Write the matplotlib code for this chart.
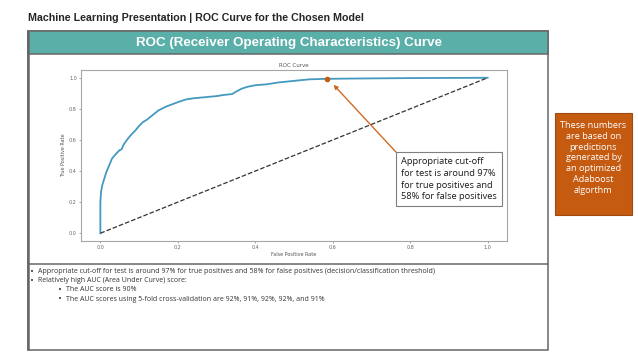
import numpy as np
import matplotlib
matplotlib.use("Agg")
import matplotlib.pyplot as plt
from matplotlib.patches import Rectangle

# ROC curve points
fpr = [0.0, 0.0, 0.002, 0.005, 0.01, 0.015, 0.02, 0.03, 0.04, 0.05, 0.055, 0.06, 0.07, 0.08,
       0.09, 0.10, 0.11, 0.12, 0.13, 0.14, 0.15, 0.17, 0.20, 0.22, 0.24, 0.27, 0.30, 0.32,
       0.34, 0.35, 0.365, 0.38, 0.40, 0.43, 0.46, 0.50, 0.54, 0.58, 0.65, 0.80, 1.0]
tpr = [0.0, 0.20, 0.27, 0.31, 0.35, 0.39, 0.42, 0.48, 0.51, 0.535, 0.54, 0.57, 0.605, 0.635,
       0.66, 0.69, 0.715, 0.73, 0.75, 0.77, 0.79, 0.815, 0.843, 0.86, 0.868, 0.875, 0.882, 0.89,
       0.895, 0.91, 0.93, 0.942, 0.952, 0.958, 0.97, 0.98, 0.99, 0.993, 0.995, 0.998, 1.0]
cutoff = (0.584, 0.993)

x_ticks = [0.0, 0.2, 0.4, 0.6, 0.8, 1.0]
y_ticks = [0.0, 0.2, 0.4, 0.6, 0.8, 1.0]

title = "Machine Learning Presentation | ROC Curve for the Chosen Model"
header = "ROC (Receiver Operating Characteristics) Curve"
note = ("Appropriate cut-off\nfor test is around 97%\n"
        "for true positives and\n58% for false positives")
side_note = ("These numbers\nare based on\npredictions\ngenerated by\n"
             "an optimized\nAdaboost\nalgorthm")
bullets = [
    (0, "Appropriate cut-off for test is around 97% for true positives and 58% for false positives (decision/classification threshold)"),
    (0, "Relatively high AUC (Area Under Curve) score:"),
    (1, "The AUC score is 90%"),
    (1, "The AUC scores using 5-fold cross-validation are 92%, 91%, 92%, 92%, and 91%"),
]

W, H = 638, 359
teal = "#5aafa9"
orange = "#c55a11"
frame = "#666666"
body_font = ["Open Sans", "DejaVu Sans"]
head_font = ["Liberation Sans", "DejaVu Sans"]

fig = plt.figure(figsize=(W / 100, H / 100), dpi=100)
fig.patch.set_facecolor("white")

# pixel-space overlay for the slide furniture
bg = fig.add_axes([0, 0, 1, 1])
bg.set_xlim(0, W)
bg.set_ylim(H, 0)
bg.axis("off")

bg.text(28, 18, title, fontsize=7.7, fontweight="bold", color="#262626",
        family=head_font, va="center")

# panel frame, header bar, divider
bg.add_patch(Rectangle((28, 31), 520, 319, fill=False, ec=frame, lw=1.1))
bg.plot([28, 28], [31, 350], color=frame, lw=1.8, solid_capstyle="butt")
bg.add_patch(Rectangle((28, 31), 520, 23, fc=teal, ec=frame, lw=1.1))
bg.text(289, 43, header, fontsize=9.6, fontweight="bold", color="white",
        family=head_font, ha="center", va="center")
bg.plot([28, 548], [264, 264], color=frame, lw=1.1)

# bullet list
y = 271.5
for level, txt in bullets:
    bx = 32 if level == 0 else 60
    bg.text(bx, y, "\u2022", fontsize=5, ha="center", va="center", color="#333333")
    bg.text(bx + 6, y, txt, fontsize=5, va="center", color="#333333", family=body_font)
    y += 9.2

# orange side note
bg.add_patch(Rectangle((555, 113), 77, 102, fc=orange, ec="#a04a10", lw=0.8))
bg.text(593.5, 158, side_note, fontsize=6.6, color="white", ha="center", va="center",
        linespacing=1.25, family=body_font)

# ROC axes
ax = fig.add_axes([81 / W, 1 - 241 / H, 426 / W, 171 / H])
ax.plot(fpr, tpr, color="#4499bf", lw=1.3)
ax.plot([0, 1], [0, 1], color="#333333", lw=0.9, ls="--")
ax.plot(*cutoff, marker="o", color=orange, ms=3)
ax.set_xlim(-0.05, 1.05)
ax.set_ylim(-0.05, 1.05)
ax.set_xticks(x_ticks)
ax.set_yticks(y_ticks)
ax.tick_params(labelsize=3.5, length=1.5, width=0.4, pad=1.5, colors="#666666")
for s in ax.spines.values():
    s.set_linewidth(0.8)
    s.set_color("#a6a6a6")
ax.set_title("ROC Curve", fontsize=4, pad=2, color="#555555")
ax.set_xlabel("False Positive Rate", fontsize=3.5, labelpad=1.5, color="#555555")
ax.set_ylabel("True Positive Rate", fontsize=3.5, labelpad=2, color="#555555")

ax.annotate(note, xy=(0.602, 0.955), xytext=(401, 157.5), textcoords=bg.transData,
            fontsize=6.65, family=body_font, color="#1a1a1a",
            ha="left", va="top", linespacing=1.36,
            bbox=dict(boxstyle="square,pad=0.55", fc="white", ec="#7f7f7f", lw=0.8),
            arrowprops=dict(arrowstyle="-|>", color="#cf6a25", lw=1.0,
                            mutation_scale=6, shrinkA=0, shrinkB=0,
                            relpos=(0, 1)))

fig.savefig("out.png", dpi=100)
